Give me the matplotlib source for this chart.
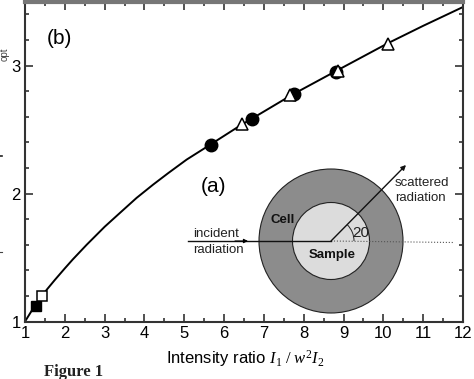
import numpy as np
import matplotlib
matplotlib.use('Agg')
import matplotlib.pyplot as plt
from matplotlib.patches import Circle, Arc

plt.rcParams['font.family']=['Liberation Sans','DejaVu Sans']
plt.rcParams['mathtext.fontset']='custom'
plt.rcParams['mathtext.it']='Liberation Serif:italic'
plt.rcParams['mathtext.rm']='Liberation Serif'

# curve
curve_x=[1.0,1.1,1.2,1.3,1.43,1.55,1.75,2.0,2.2,2.55,3.0,3.39,3.8,4.22,4.6,5.06,5.67,6.45,6.7,7.7,8.83,10.12,11.0,12.0]
curve_y=[1.0,1.05,1.1,1.145,1.2,1.25,1.325,1.415,1.485,1.6,1.74,1.85,1.965,2.07,2.16,2.265,2.385,2.54,2.585,2.77,2.96,3.175,3.31,3.457]

circle_x=[5.67,6.7,7.76,8.81]
circle_y=[2.38,2.58,2.78,2.95]
triangle_x=[6.45,7.66,8.86,10.12]
triangle_y=[2.54,2.77,2.96,3.17]
filled_square_x=[1.27]
filled_square_y=[1.125]
open_square_x=[1.43]
open_square_y=[1.2]

x_ticks=list(range(1,13))
y_ticks=[1,2,3]

fig=plt.figure(figsize=(4.74,3.79),dpi=100)
W,H=474.0,379.0
ax=fig.add_axes([25/W,1-321.5/H,438/W,320/H])
ax.set_xlim(1,12)
ax.set_ylim(1,3.5)

ax.plot(curve_x,curve_y,color='black',lw=1.4,zorder=2)
ax.plot(circle_x,circle_y,'o',color='black',ms=9,zorder=3)
ax.plot(triangle_x,triangle_y,'^',mfc='white',mec='black',mew=1.1,ms=9,zorder=4)
ax.plot(filled_square_x,filled_square_y,'s',color='black',ms=7.2,zorder=3)
ax.plot(open_square_x,open_square_y,'s',mfc='white',mec='black',mew=1.1,ms=7.5,zorder=4)

ax.set_xticks(x_ticks)
ax.set_yticks(y_ticks)
ax.set_xticks(np.arange(1.5,12,1),minor=True)
ax.set_yticks(np.arange(1.2,3.5,0.2),minor=True)
ax.tick_params(which='major',direction='in',length=5.5,width=1.1,top=True,right=True,labelsize=12,color='#222222')
ax.tick_params(which='minor',direction='in',length=2.7,width=1.1,top=True,right=True,color='#222222')
ax.tick_params(axis='x',which='major',pad=3)
ax.tick_params(axis='y',which='major',pad=3)
for s in ax.spines.values():
    s.set_linewidth(1.5)
    s.set_color('#333333')
ax.spines['top'].set_linewidth(3)
ax.spines['top'].set_color('#777777')

ax.set_xlabel(r'Intensity ratio $I_1\ /\ w^2I_2$',fontsize=12)
ax.xaxis.set_label_coords((245-25)/438,-0.082)

ax.text(47/W,1-39/H,'(b)',transform=fig.transFigure,fontsize=15,va='center')
ax.text(201/W,1-186/H,'(a)',transform=fig.transFigure,fontsize=15,va='center')

# schematic drawn in pixel coordinates on top
ov=fig.add_axes([0,0,1,1])
ov.set_xlim(0,W)
ov.set_ylim(H,0)
ov.axis('off')
ov.patch.set_alpha(0)
cx,cy=331,241
ov.add_patch(Circle((cx,cy),72,fc='#8c8c8c',ec='#222222',lw=0.8))
ov.add_patch(Circle((cx,cy),38.5,fc='#dcdcdc',ec='#222222',lw=0.8))
ov.plot([cx,453],[cy,242.5],':',color='#555555',lw=0.8)
ov.plot([188,cx],[cy,cy],color='#111111',lw=1)
ov.annotate('',xy=(248,cy),xytext=(235,cy),arrowprops=dict(arrowstyle='-|>',color='black',lw=0.8,mutation_scale=6,shrinkA=0,shrinkB=0))
ov.annotate('',xy=(406,165),xytext=(cx,cy),arrowprops=dict(arrowstyle='-|>',color='#111111',lw=1,mutation_scale=7,shrinkA=0,shrinkB=0))
ov.add_patch(Arc((cx,cy),46,46,theta1=-45,theta2=0,color='#222222',lw=0.7))
ov.text(360.5,233,'20',fontsize=11,ha='center',va='center',color='#222222')
ov.text(193,234,'incident',fontsize=9.5,va='center',color='#222222')
ov.text(193,250,'radiation',fontsize=9.5,va='center',color='#222222')
ov.text(395,183,'scattered',fontsize=9.5,va='center',color='#222222')
ov.text(395,198,'radiation',fontsize=9.5,va='center',color='#222222')
ov.text(271,220,'Cell',fontsize=9.5,fontweight='bold',va='center',color='#111111')
ov.text(309,255,'Sample',fontsize=9.5,fontweight='bold',va='center',color='#111111')
ov.text(44,372,'Figure 1',fontsize=12,fontweight='bold',family='Liberation Serif',va='center',color='#222222')
# remains of the cropped axis label at the left edge
ov.text(5,54,'opt',fontsize=7,rotation=90,ha='center',va='center',color='#444444')
ov.plot([0,2],[156,156],color='#222222',lw=1.2)
ov.plot([0,2],[252,252],color='#444444',lw=0.8)

fig.savefig('out.png',dpi=100)
